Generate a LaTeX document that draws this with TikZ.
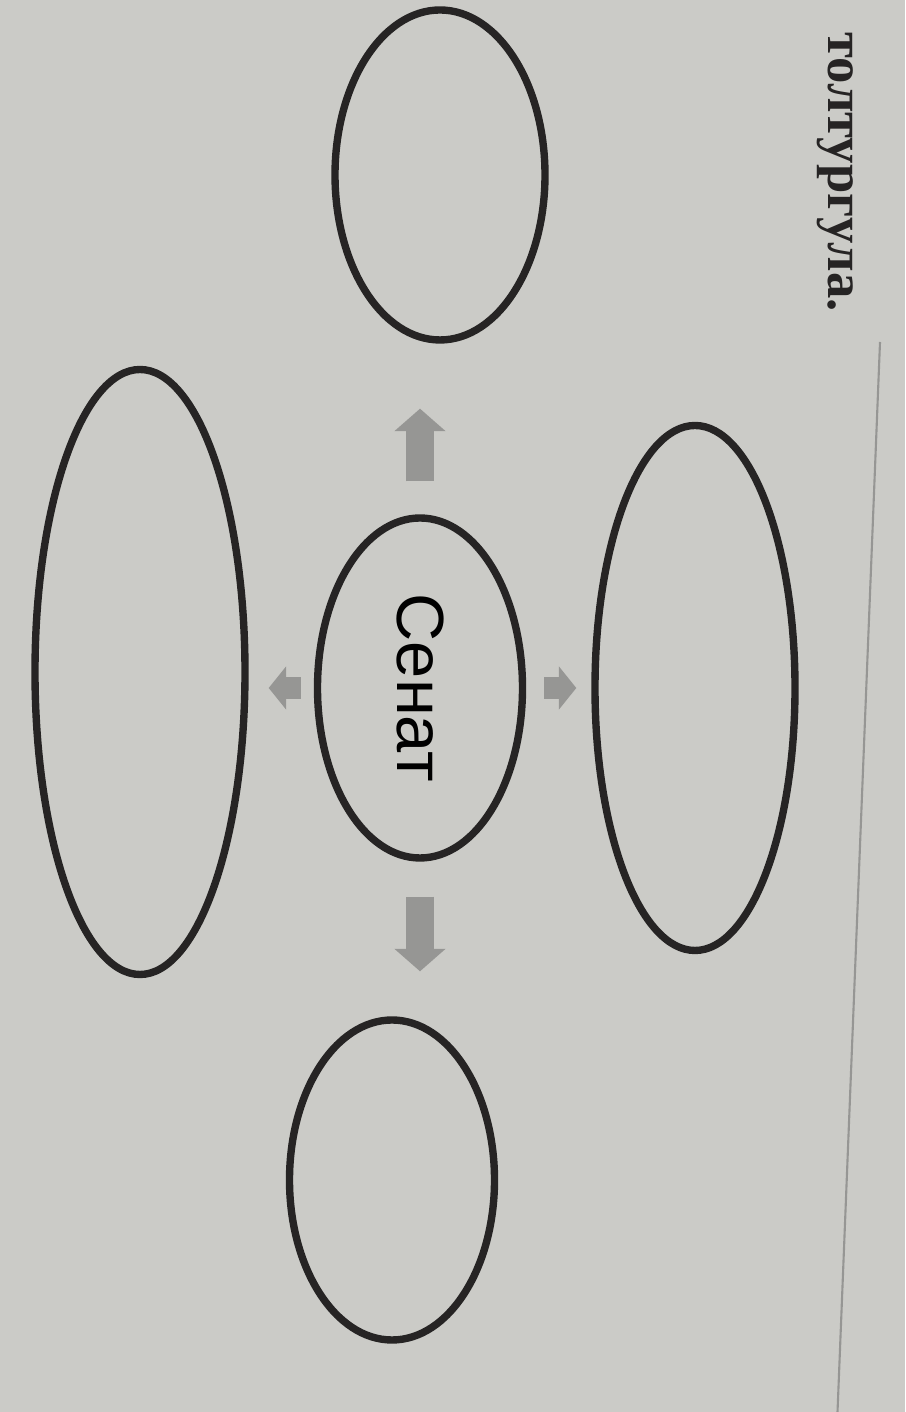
\documentclass[tikz,border=0pt]{standalone}
\usepackage{fontspec}
\setmainfont{Liberation Serif}
\newfontfamily\senatfont{Liberation Sans}
\usetikzlibrary{arrows.meta, shapes.geometric}

\definecolor{paper}{RGB}{203,203,199}
\definecolor{ink}{RGB}{38,36,36}
\definecolor{pale}{RGB}{150,150,148}

\begin{document}
\begin{tikzpicture}[
    blob/.style={ellipse, draw=ink, line width=4.2pt, inner sep=0pt},
    fat/.style={draw=pale, line width=0.55cm, -{Triangle[length=0.45cm, width=1.0cm]}},
    slim/.style={draw=pale, line width=0.45cm, -{Triangle[length=0.35cm, width=0.85cm]}}
]
    \fill[paper] (0,0) rectangle (18.1,28.24);
    \useasboundingbox (0,0) rectangle (18.1,28.24);

    \node[rotate=-90, font=\bfseries\fontsize{30}{30}\selectfont, text=ink] (task) at (16.7,24.8) {толтургула.};
    \draw[pale, line width=1.2pt] (17.6,21.4) -- (16.75,0);

    \node[blob, minimum width=4.2cm, minimum height=6.6cm] (tl) at (8.8,24.74) {};
    \node[blob, minimum width=4.2cm, minimum height=12.1cm] (lb) at (2.8,14.8) {};
    \node[blob, minimum width=4.1cm, minimum height=6.8cm] (senat) at (8.4,14.48)
        {\rotatebox{-90}{\senatfont\fontsize{38}{38}\selectfont Сенат}};
    \node[blob, minimum width=4.0cm, minimum height=10.5cm] (rt) at (13.9,14.48) {};
    \node[blob, minimum width=4.1cm, minimum height=6.4cm] (bt) at (7.84,4.64) {};

    \draw[fat, shorten <=0.66cm, shorten >=1.3cm] (senat.north) -- (senat.north |- tl.south);
    \draw[fat, shorten <=0.7cm, shorten >=0.9cm] (senat.south) -- (senat.south |- bt.north);
    \draw[slim, shorten <=0.26cm, shorten >=0.4cm] (senat.west) -- (senat.west -| lb.east);
    \draw[slim, shorten <=0.36cm, shorten >=0.3cm] (senat.east) -- (senat.east -| rt.west);
\end{tikzpicture}
\end{document}
